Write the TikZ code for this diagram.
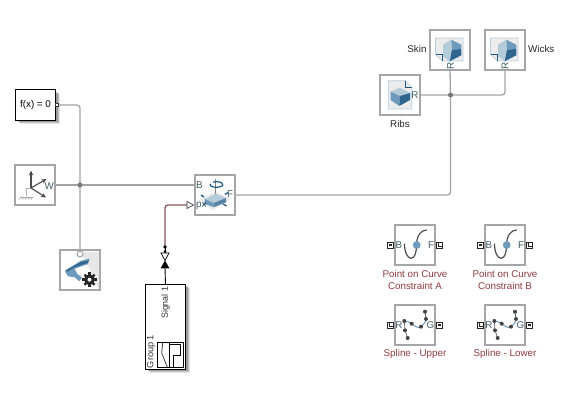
\documentclass[tikz,border=0pt]{standalone}
\usepackage{fontspec}
\usetikzlibrary{arrows.meta}
\setmainfont{Liberation Sans}
\definecolor{conn}{HTML}{A3A3A3}
\definecolor{frameg}{HTML}{A6A6A6}
\definecolor{labelc}{HTML}{3F5F66}
\definecolor{redl}{HTML}{8E3B3F}
\definecolor{blueA}{HTML}{B4CBD9}
\definecolor{blueB}{HTML}{6E9ABB}
\definecolor{blueC}{HTML}{2F6690}
\definecolor{navy}{HTML}{1F5A85}
\definecolor{dots}{HTML}{444444}
\tikzset{
 x=1pt,y=-1pt,
 blockbox/.style={draw=frameg,line width=1.6pt,fill=white,minimum width=40pt,minimum height=40pt,inner sep=0pt,outer sep=0pt},
 subsys/.style={draw=black,line width=1pt,fill=white,inner sep=0pt,outer sep=0pt},
 wire/.style={draw=conn,line width=1.3pt,rounded corners=3pt},
 redwire/.style={draw=redl!60!gray,line width=1.3pt,rounded corners=3pt},
 jdot/.style={circle,fill=conn!75!black,minimum size=5pt,inner sep=0pt},
 plab/.style={text=labelc,font=\fontsize{9.8}{10}\selectfont,inner sep=0pt},
 blab/.style={text=black!85,font=\fontsize{9.8}{10}\selectfont,inner sep=0pt},
 rotlab/.style={text=black!80,font=\fontsize{8.9}{10}\selectfont,inner sep=0pt,rotate=90},
 rlab/.style={text=redl,font=\fontsize{9.8}{12}\selectfont,inner sep=0pt,align=center},
 cubepage/.pic={
  \fill[gray!15] (5.5,8)--(33,8)--(33,31)--(12.5,31)--(5.5,24.5)--cycle;
  \draw[blueB!50,line width=.7pt] (5.5,8)--(33,8)--(33,31)--(12.5,31)--(5.5,24.5)--cycle;
  \draw[navy,line width=1pt] (5.5,24.5)--(12.5,24.5)--(12.5,31);
  \fill[blueA] (13,14.7)--(21.3,9.7)--(22,19.7)--(19.7,31.3)--(13,26.3)--cycle;
  \fill[blueB] (21.3,9.7)--(31.3,14.7)--(31.3,19)--(22,19.7)--cycle;
  \fill[blueC] (22,19.7)--(31.3,19)--(31.3,25.3)--(19.7,31.3)--cycle;
 },
 ribpage/.pic={
  \fill[gray!15] (8.3,5.7)--(25,5.7)--(31.7,12.5)--(31.7,34)--(8.3,34)--cycle;
  \draw[blueB!50,line width=.7pt] (8.3,5.7)--(25,5.7)--(31.7,12.5)--(31.7,34)--(8.3,34)--cycle;
  \draw[navy,line width=1pt] (25,5.7)--(25,12.5)--(31.7,12.5);
  \fill[blueA] (10.7,16.7)--(20,12.7)--(30,18)--(20,21)--cycle;
  \fill[blueB] (10.7,16.7)--(20,21)--(19.3,31)--(10.7,25)--cycle;
  \fill[blueC] (20,21)--(30,18)--(30,25)--(19.3,31)--cycle;
 },
 curveicon/.pic={
  \draw[black!70,line width=1.2pt,line cap=round] (9.5,19) .. controls (9.5,28) and (13,33.3) .. (16,33.3) .. controls (20,33.3) and (21.5,27) .. (21.5,20) .. controls (21.5,11) and (26,5) .. (31.5,5);
  \fill[blueB] (21.7,20) circle (3.9);
 },
 splineicon/.pic={
  \draw[blueB,line width=1pt] (30,6.7) .. controls (31,10) .. (31,14) .. controls (30,18) .. (26,21.7) .. controls (23,24) and (20,21) .. (16.7,18.7) .. controls (14,17) .. (9.3,16);
  \draw[black!60,line width=.7pt] (9.3,16)--(10,25.3)--(12.7,33) (30,6.7)--(31,14);
  \foreach \p in {(30,6.7),(31,14),(26,21.7),(16.7,18.7),(9.3,16),(10,25.3),(12.7,33)} \fill[dots] \p circle (2);
 },
 squareport/.pic={
  \draw[black!85,line width=.7pt,fill=white] (-3,-3) rectangle (3,3);
  \fill[black!85] (-1.3,-1.3) rectangle (1.3,1.3);
 },
 framedport/.pic={
  \draw[black!85,line width=.7pt,fill=white] (-3,-3) rectangle (3,3);
  \draw[black!85,line width=.6pt] (-1,-2)--(-1,1)--(2,1);
 },
}
\begin{document}
\begin{tikzpicture}
\useasboundingbox (0,0) rectangle (571,406);
\fill[white] (0,0) rectangle (571,406);
% shadows
\foreach \d/\o in {4/.10,3/.15,2/.2}{
 \fill[black,opacity=\o] (15.5+\d,90+\d) rectangle (55.5+\d,120.5+\d);
 \fill[black,opacity=\o] (145.5+\d,284.5+\d) rectangle (185.5+\d,369.5+\d);
}
% blocks
\node[subsys,minimum width=40pt,minimum height=30.5pt,font=\fontsize{9.8}{10}\selectfont] (fx) at (35.5,105.25) {f(x) = 0};
\node[blockbox] (W) at (35,185) {};
\node[blockbox] (gear) at (80,270) {};
\node[blockbox] (joint) at (215,195) {};
\node[subsys,minimum width=40pt,minimum height=85pt] (sig) at (165.5,327) {};
\node[blockbox] (skin) at (450,50) {};
\node[blockbox] (wicks) at (505,50) {};
\node[blockbox] (ribs) at (400,95) {};
\node[blockbox] (pa) at (415,245) {};
\node[blockbox] (pb) at (505,245) {};
\node[blockbox] (su) at (415,325) {};
\node[blockbox] (sl) at (505,325) {};
% junctions and bends
\coordinate (fxp) at (58,105);
\coordinate (jW) at (80,185);
\coordinate (jR) at (450.5,95);
\coordinate (jB) at (195,185);
\coordinate (jF) at (235,195);
\coordinate (gp) at (80,252);
\coordinate (sigtop) at (165,247);
\coordinate (px) at (187,205);
\coordinate (sigarrow) at (165,268);
% connectors
\draw[wire] (fxp) -| (gp);
\draw[wire] (W.east) -- (jB);
\draw[wire] (jF) -| (jR);
\draw[wire] (jR) -- (skin.south);
\draw[wire] (ribs.east) -| (wicks.south);
\draw[redwire] (sigtop) |- (px);
\draw[black,line width=.9pt] (sig.north) -- (sigarrow);
\node[jdot] (dotW) at (jW) {};
\node[jdot] (dotR) at (jR) {};
% fx port
\draw[black!80,line width=.6pt,fill=white] (55.5,103.5) rectangle (58,106);
% frame icon (W)
\begin{scope}[shift={(W.north west)}]
 \draw[gray!60,line width=.8pt] (16,23) -- (11,23) -- (11,31);
 \draw[gray!70,line width=.9pt] (5,32)--(17,32);
 \foreach \i in {6,9,12,15,18} \draw[gray!70,line width=.7pt] (\i,32)--(\i-2,34.5);
 \draw[black!70,line width=1.1pt,-{Stealth[length=5pt,width=4.5pt]}] (16,23)--(16,5.5);
 \draw[black!70,line width=1.1pt,-{Stealth[length=5pt,width=4.5pt]}] (16,23)--(31.5,14);
 \draw[black!70,line width=1.1pt,-{Stealth[length=5pt,width=4.5pt]}] (16,23)--(31,32.5);
\end{scope}
\node[plab,anchor=east] (Wl) at (54,186) {W};
% gear block icon
\begin{scope}[shift={(gear.north west)}]
 \fill[gray!18] (21,2)--(39,2)--(39,39)--cycle;
 \fill[blueB] (4.7,20.7)--(21,10.7)--(29.7,8.7)--(28,14)--(14.7,18.7)--(17.3,24)--(22,27.3)--(19.3,31.3)--(14.7,27.3)--(8,26.3)--cycle;
 \fill[blueC] (6,20.5)--(21,12)--(29,10.5)--(27.5,13)--(14,17.5)--(8,21.5)--cycle;
\end{scope}
\draw[conn,line width=1pt,fill=white] (gp)++(0,2) circle (3);
\foreach \a in {0,45,...,315} \draw[black!85,line width=2.4pt,shift={(89.5,279.7)}] (\a:4)--(\a:7.2);
\fill[black!85] (89.5,279.7) circle (5.5);
\fill[white] (89.5,279.7) circle (2);
% joint icon
\begin{scope}[shift={(joint.north west)}]
 \fill[gray!15] (3,26)--(20,16)--(36,24)--(18,35)--cycle;
 \draw[gray,line width=1.3pt] (20.7,4)--(20.7,20);
 \draw[navy,line width=1.2pt] (15,9) arc[start angle=190,end angle=-120,x radius=6.5,y radius=2.8];
 \fill[blueA] (9.7,24)--(20.7,18.7)--(31,23)--(18.7,28)--cycle;
 \fill[blueB] (9.7,24)--(18.7,28)--(18.7,32.3)--(9.7,28.7)--cycle;
 \fill[blueC!80] (18.7,28)--(31,23)--(31,27.3)--(18.7,32.3)--cycle;
 \draw[navy,line width=1.3pt] (6,20)--(9,22) (33,17.5)--(30,19.5) (28,29)--(31.5,31) (8,30)--(11,28.5);
\end{scope}
\node[plab] (lB) at (199.5,185.5) {B};
\node[plab] (lF) at (230,194.5) {F};
\node[plab,anchor=west] (lpx) at (196,206) {px};
\draw[black!80,fill=white,line width=.6pt] (187,201.5)--(193.5,205)--(187,208.5)--cycle;
% signal stack
\fill[black] (160.5,268.5)--(165,260.5)--(169.5,268.5)--cycle;
\draw[black,fill=white,line width=.7pt] (161,253)--(165,260.5)--(169,253)--cycle;
\draw[black,line width=.8pt] (165,247)--(165,253);
\fill[black] (165,247) circle (1.9);
\fill[black] (165,251.5) circle (1.5);
% subsystem content
\node[rotlab] (ls) at (165.5,302.8) {Signal 1};
\node[rotlab,font=\fontsize{9.2}{10}\selectfont] (lg) at (151,351.5) {Group 1};
\draw[black,line width=.8pt] (157.5,342.5) rectangle (183,367.5);
\draw[black,line width=.8pt] (169.5,342.5)--(169.5,367.5);
\draw[black!75,line width=.8pt] (162.7,343) -- (161.7,353) -- (167.3,367);
\draw[black,line width=.8pt] (169.5,344)--(180.7,344)--(180.7,355)--(173.3,355)--(173.3,367);
% cube icons
\pic at (skin.north west) {cubepage};
\pic at (wicks.north west) {cubepage};
\pic at (ribs.north west) {ribpage};
\node[plab,rotate=90] (rs) at (450.5,65.5) {R};
\node[plab,rotate=90] (rw) at (505,65.5) {R};
\node[plab] (rr) at (415,95.5) {R};
\node[blab,anchor=east] (lskin) at (426.7,49.5) {Skin};
\node[blab,anchor=west] (lwick) at (528,49.5) {Wicks};
\node[blab] (lribs) at (400,123.5) {Ribs};
% constraint icons
\pic at (pa.north west) {curveicon};
\pic at (pb.north west) {curveicon};
\pic at (su.north west) {splineicon};
\pic at (sl.north west) {splineicon};
\foreach \b in {pa,pb}{
 \node[plab] at ([xshift=-16pt]\b.center) {B};
 \node[plab] at ([xshift=16pt]\b.center) {F};
 \pic at ([xshift=-4.5pt]\b.west) {squareport};
 \pic at ([xshift=4.5pt]\b.east) {framedport};
}
\foreach \b in {su,sl}{
 \node[plab] at ([xshift=-16pt]\b.center) {R};
 \node[plab] at ([xshift=15.5pt]\b.center) {G};
 \pic at ([xshift=-4.5pt]\b.west) {framedport};
 \pic at ([xshift=4.5pt]\b.east) {squareport};
}
\node[rlab] (la) at (415,279.7) {Point on Curve\\Constraint A};
\node[rlab] (lb) at (505,279.7) {Point on Curve\\Constraint B};
\node[rlab] (lu) at (415,353.7) {Spline - Upper};
\node[rlab] (ll) at (505,353.7) {Spline - Lower};
\end{tikzpicture}
\end{document}
